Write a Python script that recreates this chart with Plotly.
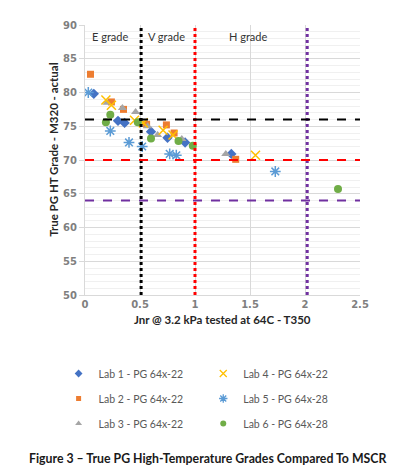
import plotly.graph_objects as go

# Jnr @ 3.2 kPa (x) vs true PG high temperature grade (y), per lab
lab1_x = [0.08, 0.30, 0.36, 0.60, 0.75, 0.91, 1.33]
lab1_y = [79.8, 75.8, 75.5, 74.2, 73.3, 72.6, 70.9]
lab2_x = [0.05, 0.24, 0.35, 0.56, 0.74, 0.81, 1.37]
lab2_y = [82.7, 78.6, 77.5, 75.3, 75.2, 74.0, 70.1]
lab3_x = [0.20, 0.34, 0.46, 0.57, 0.66, 0.88, 1.28]
lab3_y = [78.5, 77.7, 77.1, 75.0, 73.7, 73.1, 70.9]
lab4_x = [0.19, 0.24, 0.45, 0.53, 0.71, 0.80, 1.55]
lab4_y = [78.9, 78.1, 75.9, 75.5, 74.4, 73.7, 70.7]
lab5_x = [0.03, 0.23, 0.40, 0.52, 0.77, 0.83, 1.73]
lab5_y = [80.0, 74.3, 72.6, 72.0, 70.9, 70.7, 68.3]
lab6_x = [0.19, 0.23, 0.48, 0.60, 0.85, 0.98, 2.30]
lab6_y = [75.6, 76.7, 75.6, 73.2, 72.8, 72.1, 65.7]

lab_names = ["Lab 1 - PG 64x-22", "Lab 2 - PG 64x-22", "Lab 3 - PG 64x-22",
             "Lab 4 - PG 64x-22", "Lab 5 - PG 64x-28", "Lab 6 - PG 64x-28"]

# grade limits: Jnr thresholds and PG temperatures
jnr_limits = [0.51, 1.0, 2.02]
pg_limits = [76, 70, 64]
grade_labels = ["E grade", "V grade", "H grade"]
grade_label_x = [0.23, 0.74, 1.48]
grade_label_y = 88.3

symbols = ["diamond", "square", "triangle-up", "x-thin-open", "asterisk-open", "circle"]
colors = ["#4472C4", "#ED7D31", "#A5A5A5", "#FFC000", "#5B9BD5", "#70AD47"]
sizes = [8, 7, 8, 9, 9, 8]
xs = [lab1_x, lab2_x, lab3_x, lab4_x, lab5_x, lab6_x]
ys = [lab1_y, lab2_y, lab3_y, lab4_y, lab5_y, lab6_y]

fig = go.Figure()
for i, (x, y) in enumerate(zip(xs, ys)):
    fig.add_trace(go.Scatter(
        x=x, y=y, mode="markers", name=lab_names[i], showlegend=False,
        marker=dict(symbol=symbols[i], color=colors[i], size=sizes[i],
                    line=dict(width=1.5, color=colors[i]) if "open" in symbols[i] else dict(width=0)),
    ))

# legend entries with the smaller markers the original legend uses
for i in range(6):
    fig.add_trace(go.Scatter(
        x=[None], y=[None], mode="markers", name=lab_names[i],
        legend="legend" if i < 3 else "legend2", legendgroup=str(i),
        marker=dict(symbol=symbols[i], color=colors[i], size=sizes[i] - 2,
                    line=dict(width=1.3, color=colors[i]) if "open" in symbols[i] else dict(width=0)),
    ))

line_colors = ["#000000", "#FF0000", "#7030A0"]
for v, c in zip(jnr_limits, line_colors):
    fig.add_vline(x=v, line=dict(color=c, width=3, dash="dot"))
for h, c in zip(pg_limits, line_colors):
    fig.add_hline(y=h, line=dict(color=c, width=2, dash="dash"))

for t, gx in zip(grade_labels, grade_label_x):
    fig.add_annotation(x=gx, y=grade_label_y, text=t, showarrow=False,
                       font=dict(size=11, color="#333333", family="Lato"))

# axis titles as annotations so they sit where the original puts them
fig.add_annotation(
    text="<b>True PG HT Grade - M320 - actual</b>", textangle=-90,
    xref="paper", yref="paper", x=-0.145, y=0.54, showarrow=False,
    font=dict(size=11.5, color="#262626", family="Lato"),
)
fig.add_annotation(
    text="<b>Jnr @ 3.2 kPa tested at 64C - T350</b>",
    xref="paper", yref="paper", x=0.5, y=-0.122, showarrow=False,
    font=dict(size=11.5, color="#262626", family="Lato"),
)
fig.add_annotation(
    text="<b>Figure 3 – True PG High-Temperature Grades Compared To MSCR</b>",
    xref="paper", yref="paper", x=0.444, y=-0.604, yanchor="middle",
    showarrow=False,
    font=dict(size=12.3, color="#1a1a1a", family="Lato"),
)

legend_style = dict(
    orientation="v", yanchor="top", xanchor="left", yref="container",
    font=dict(size=10.5, color="#595959", family="Lato"),
    bgcolor="rgba(0,0,0,0)", tracegroupgap=6, itemwidth=30,
    itemsizing="trace",
)

fig.update_layout(
    width=392, height=468,
    margin=dict(l=77, r=40, t=17, b=181),
    plot_bgcolor="white", paper_bgcolor="white",
    font=dict(family="Lato", color="#595959"),
    showlegend=True,
    legend=dict(x=-0.096, y=0.25, **legend_style),
    legend2=dict(x=0.43, y=0.25, **legend_style),
    xaxis=dict(
        range=[0, 2.5], dtick=0.5, tick0=0, automargin=False,
        showgrid=True, gridcolor="#D9D9D9", zeroline=False,
        showline=True, linecolor="#D9D9D9", mirror=False,
        tickfont=dict(size=10, color="#7f7f7f", family="DejaVu Sans", weight="bold"),
        ticks="", fixedrange=True,
    ),
    yaxis=dict(
        range=[50, 90], dtick=5, automargin=False,
        showgrid=True, gridcolor="#D9D9D9", zeroline=False,
        minor=dict(dtick=1, showgrid=True, gridcolor="#F0F0F0"),
        showline=True, linecolor="#D9D9D9",
        tickfont=dict(size=10, color="#7f7f7f", family="DejaVu Sans", weight="bold"),
        ticks="outside", ticklen=5, tickcolor="#D9D9D9",
        fixedrange=True,
    ),
)

fig.write_html("out.html")
